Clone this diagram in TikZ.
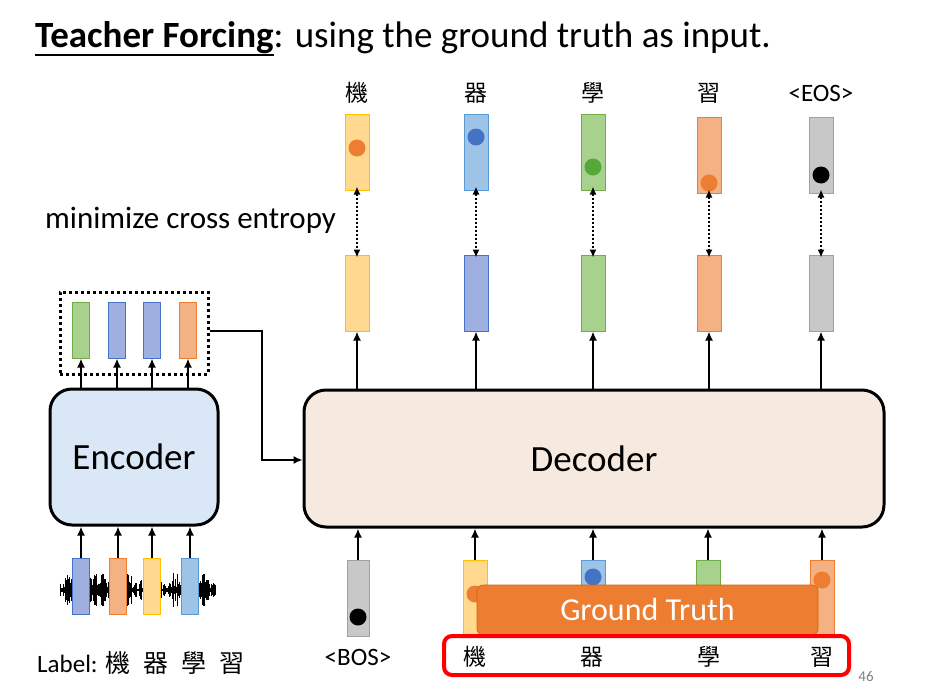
\documentclass[tikz,border=0pt]{standalone}
\usepackage{fontspec}
\setmainfont{Carlito}
\newfontfamily\cjk{Noto Sans CJK TC}
\usetikzlibrary{arrows.meta}
\definecolor{yF}{HTML}{FFD98F}\definecolor{yB}{HTML}{FFC000}
\definecolor{bF}{HTML}{9FB0E0}\definecolor{bB}{HTML}{4472C4}
\definecolor{lF}{HTML}{9DC3E6}\definecolor{lB}{HTML}{5B9BD5}
\definecolor{gF}{HTML}{A9D18E}\definecolor{gB}{HTML}{70AD47}
\definecolor{oF}{HTML}{F4B183}\definecolor{oB}{HTML}{ED7D31}
\definecolor{kF}{HTML}{C8C8C8}\definecolor{kB}{HTML}{A0A0A0}
\definecolor{dot o}{HTML}{ED7D31}\definecolor{dot b}{HTML}{4472C4}\definecolor{dot g}{HTML}{56A83A}
\definecolor{encF}{HTML}{DAE7F6}\definecolor{decF}{HTML}{F6EAE0}
\tikzset{
 bar/.style 2 args={draw=#2,fill=#1,line width=1pt,minimum width=24pt,minimum height=76pt,inner sep=0pt},
 sbar/.style 2 args={draw=#2,fill=#1,line width=1pt,minimum width=17pt,minimum height=56pt,inner sep=0pt},
 dot/.style={circle,fill=#1,minimum size=17pt,inner sep=0pt},
 arr/.style={-{Latex[length=9pt,width=8pt]},line width=2.2pt},
 lbl/.style={font=\fontsize{25}{27}\selectfont},
 ck/.style={font=\cjk\fontsize{23}{25}\selectfont},
}
\begin{document}
\begin{tikzpicture}[x=1pt,y=-1pt]
\useasboundingbox (0,0) rectangle (927,691);
\node[anchor=base west,font=\fontsize{37}{40}\selectfont,inner sep=0] (title) at (35,47) {\textbf{Teacher Forcing}: using the ground truth as input.};
\draw[line width=1.2pt] (35,55) -- (274,55);
\node[anchor=west,font=\fontsize{31}{34}\selectfont,inner sep=0] (mce) at (45,220) {minimize cross entropy};
% top labels
\node[ck] (t1) at (357,93) {機};
\node[ck] (t2) at (476,93) {器};
\node[ck] (t3) at (593,93) {學};
\node[ck] (t4) at (709,93) {習};
\node[lbl] (t5) at (821,93) {<EOS>};
% output bars
\node[bar={yF}{yB}] (o1) at (357,152) {};
\node[bar={lF}{lB}] (o2) at (476,152) {};
\node[bar={gF}{gB}] (o3) at (593,152) {};
\node[bar={oF}{oB}] (o4) at (709,155) {};
\node[bar={kF}{kB}] (o5) at (821,155) {};
\node[dot=dot o] (od1) at (357,148) {};
\node[dot=dot b] (od2) at (476,137) {};
\node[dot=dot g] (od3) at (593,167) {};
\node[dot=dot o] (od4) at (709,183) {};
\node[dot=black] (od5) at (821,175) {};
% predicted bars
\node[bar={yF}{yB}] (p1) at (357,293) {};
\node[bar={bF}{bB}] (p2) at (476,293) {};
\node[bar={gF}{gB}] (p3) at (593,293) {};
\node[bar={oF}{oB}] (p4) at (709,293) {};
\node[bar={kF}{kB}] (p5) at (821,293) {};
\foreach \i in {1,...,5}{
 \draw[{Latex[length=8pt,width=7pt]}-{Latex[length=8pt,width=7pt]},line width=2pt,dotted] ([yshift=4pt]o\i.south) -- ([yshift=-3pt]p\i.north);
}
% decoder
\node[draw,line width=3pt,rounded corners=22pt,fill=decF,minimum width=580pt,minimum height=137pt,font=\fontsize{37}{40}\selectfont] (dec) at (594,458.5) {Decoder};
\foreach \i in {1,...,5}{
 \draw[arr] (dec.north -| p\i) -- (p\i.south);
}
% encoder
\node[draw,line width=3pt,rounded corners=22pt,fill=encF,minimum width=168pt,minimum height=136pt,font=\fontsize{37}{40}\selectfont] (enc) at (134,457) {Encoder};
\node[sbar={gF}{gB}] (e1) at (81,330) {};
\node[sbar={bF}{bB}] (e2) at (117,330) {};
\node[sbar={bF}{bB}] (e3) at (152,330) {};
\node[sbar={oF}{oB}] (e4) at (188,330) {};
\node[draw,line width=3pt,dash pattern=on 3pt off 3pt,minimum width=148pt,minimum height=82pt] (ebox) at (134,333) {};
\foreach \i in {1,...,4}{ \draw[arr] (enc.north -| e\i) -- (e\i.south); }
\coordinate (c1) at (262,331);
\coordinate (c2) at (262,460);
\draw[arr,line width=1.6pt] (ebox.east |- c1) -- (c1) -- (c2) -- (dec.west |- c2);
% waveform
\pgfmathsetseed{7}
\foreach \k in {0,...,155}{
 \pgfmathsetmacro{\a}{(2+16*rnd)*(0.4+0.6*abs(sin(\k*7)))}
 \draw[line width=0.7pt] (60+\k,590-\a) -- (60+\k,590+\a);
}
\node[sbar={bF}{bB}] (i1) at (81,586) {};
\node[sbar={oF}{oB}] (i2) at (118,586) {};
\node[sbar={yF}{yB}] (i3) at (152,586) {};
\node[sbar={lF}{lB}] (i4) at (190,586) {};
\foreach \i in {1,...,4}{ \draw[arr] (i\i.north) -- (enc.south -| i\i); }
\node[anchor=base west,lbl,inner sep=0] (lab) at (37,672) {Label: {\cjk 機\hspace{13pt}器\hspace{13pt}學\hspace{13pt}習}};
% decoder inputs
\node[bar={kF}{kB},minimum width=22pt] (d1) at (358,598) {};
\node[bar={yF}{yB}] (d2) at (475,598) {};
\node[bar={lF}{lB}] (d3) at (593,598) {};
\node[bar={gF}{gB}] (d4) at (708,598) {};
\node[bar={oF}{oB}] (d5) at (822,598) {};
\node[dot=black] (dd1) at (358,617) {};
\node[dot=dot o] (dd2) at (475,594) {};
\node[dot=dot b] (dd3) at (593,577) {};
\node[dot=dot o] (dd5) at (822,580) {};
\foreach \i in {1,...,5}{ \draw[arr] (d\i.north) -- (dec.south -| d\i); }
\node[rounded corners=6pt,fill=dot o,draw=orange!80!black,line width=0.6pt,minimum width=341pt,minimum height=50pt,text=white,font=\fontsize{32}{34}\selectfont] (gt) at (647.5,610) {Ground Truth};
\node[draw=red,line width=4pt,rounded corners=8pt,minimum width=405pt,minimum height=39pt] (rbox) at (646.5,655.5) {};
\node[lbl] (b0) at (358,657) {<BOS>};
\node[ck] (b1) at (475,657) {機};
\node[ck] (b2) at (592,657) {器};
\node[ck] (b3) at (709,657) {學};
\node[ck] (b4) at (822,657) {習};
\node[text=gray,font=\fontsize{15}{17}\selectfont] (pg) at (866,676) {46};
\end{tikzpicture}
\end{document}
